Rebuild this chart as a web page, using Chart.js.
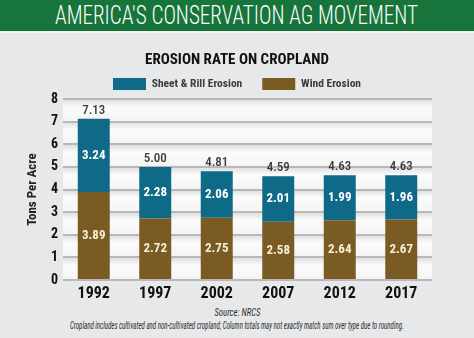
<!DOCTYPE html>
<html>
<head>
<meta charset="utf-8">
<title>Erosion Rate on Cropland</title>
<script src="https://cdn.jsdelivr.net/npm/chart.js@4.4.1/dist/chart.umd.min.js"></script>
<style>
  html, body { margin: 0; padding: 0; }
  body {
    width: 474px; height: 338px; position: relative; overflow: hidden;
    background: #e7e8ea;
    font-family: "Roboto Condensed", "Open Sans", sans-serif;
  }
  #banner {
    position: absolute; left: 0; top: 0; width: 474px; height: 31px;
    background: #17753b; border-bottom: 2px solid #f1f3f2; overflow: hidden;
  }
  .line {
    position: absolute; left: -263px; width: 1000px; text-align: center;
  }
  .line span { display: inline-block; white-space: nowrap; }
  #banner .line { top: 0; color: #fff; font-size: 25px; font-weight: 300; line-height: 31px; }
  #wrap { position: absolute; left: 0; top: 33px; width: 474px; height: 272px; }
  .foot { color: #2e2e2e; font-style: italic; font-size: 10px; line-height: 12px; }
</style>
</head>
<body>
<div id="banner"><div class="line"><span data-w="363">AMERICA'S CONSERVATION AG MOVEMENT</span></div></div>
<div id="wrap"><canvas id="erosion" width="474" height="272"></canvas></div>
<div class="line foot" style="top:307px"><span data-w="46">Source: NRCS</span></div>
<div class="line foot" style="top:320px"><span data-w="334">Cropland includes cultivated and non-cultivated cropland; Column totals may not exactly match sum over type due to rounding.</span></div>

<script>
const years = ["1992", "1997", "2002", "2007", "2012", "2017"];
const sheetRill = [3.24, 2.28, 2.06, 2.01, 1.99, 1.96];
const wind = [3.89, 2.72, 2.75, 2.58, 2.64, 2.67];
const totals = [7.13, 5.00, 4.81, 4.59, 4.63, 4.63];

const TEAL = "#0e6a86";
const BROWN = "#7a5b23";
const FONT = "'Roboto Condensed', 'Open Sans', sans-serif";

// squeeze the banner / footnote text to the set widths
document.querySelectorAll("span[data-w]").forEach((s) => {
  const k = Number(s.dataset.w) / s.offsetWidth;
  s.style.transform = "scaleX(" + k.toFixed(3) + ")";
});

// font size that makes a string about `w` px wide
const probe = document.createElement("canvas").getContext("2d");
function sizeFor(text, w, weight) {
  probe.font = weight + " 20px " + FONT;
  return Math.round((20 * w / probe.measureText(text).width) * 2) / 2;
}
const titleSize = Math.min(18, sizeFor("EROSION RATE ON CROPLAND", 186, "bold"));
const legendSize = Math.min(13.5, sizeFor("Sheet & Rill Erosion", 92, "bold"));

Chart.defaults.font.family = FONT;

// white banded plot background behind the gridlines
const plotBands = {
  id: "plotBands",
  beforeDraw(chart) {
    const { ctx, chartArea: a, scales } = chart;
    const y = scales.y;
    ctx.save();
    for (let v = 0; v < 8; v++) {
      const top = y.getPixelForValue(v + 1);
      const bot = y.getPixelForValue(v);
      const g = ctx.createLinearGradient(0, top, 0, bot);
      g.addColorStop(0, "#dcdcdc");
      g.addColorStop(0.35, "#fbfbfb");
      g.addColorStop(1, "#f4f4f4");
      ctx.fillStyle = g;
      ctx.fillRect(a.left, top, a.right - a.left, bot - top);
    }
    ctx.restore();
  },
};

// values inside each segment plus the column total on top
const valueLabels = {
  id: "valueLabels",
  afterDatasetsDraw(chart) {
    const { ctx } = chart;
    ctx.save();
    ctx.textAlign = "center";
    ctx.textBaseline = "middle";
    ctx.font = "bold 13px " + FONT;
    chart.data.datasets.forEach((ds, di) => {
      const meta = chart.getDatasetMeta(di);
      ctx.fillStyle = di === 0 ? "#f6eed6" : "#ffffff";
      meta.data.forEach((bar, i) => {
        ctx.fillText(ds.data[i].toFixed(2), bar.x, (bar.y + bar.base) / 2);
      });
    });
    const top = chart.getDatasetMeta(chart.data.datasets.length - 1);
    ctx.font = "500 13px " + FONT;
    ctx.fillStyle = "#3a3a3a";
    top.data.forEach((bar, i) => {
      ctx.fillText(totals[i].toFixed(2), bar.x, bar.y - 8);
    });
    ctx.restore();
  },
};

new Chart(document.getElementById("erosion"), {
  type: "bar",
  data: {
    labels: years,
    datasets: [
      { label: "Wind Erosion", data: wind, backgroundColor: BROWN },
      { label: "Sheet & Rill Erosion", data: sheetRill, backgroundColor: TEAL },
    ],
  },
  options: {
    responsive: false,
    animation: false,
    devicePixelRatio: 1,
    layout: { padding: 0 },
    datasets: { bar: { categoryPercentage: 1, barPercentage: 0.52 } },
    plugins: {
      title: {
        display: true,
        text: "EROSION RATE ON CROPLAND",
        color: "#111",
        font: { size: titleSize, weight: "bold", lineHeight: 1 },
        padding: { top: 20, bottom: -10 },
      },
      legend: {
        reverse: true,
        maxHeight: 41,
        labels: {
          boxWidth: 33,
          boxHeight: 12,
          padding: 20,
          color: "#3c3c3c",
          font: { size: legendSize, weight: "bold", lineHeight: 1 },
        },
      },
      tooltip: { enabled: false },
    },
    scales: {
      x: {
        stacked: true,
        grid: { display: false, drawTicks: false },
        border: { display: false },
        ticks: { color: "#111", font: { size: 16, weight: "bold" }, padding: 4 },
        afterFit: (s) => { s.height = 25; },
      },
      y: {
        stacked: true,
        min: 0,
        max: 8,
        grid: { color: "#b8b8b8", lineWidth: 2, drawTicks: false },
        border: { display: false },
        ticks: { stepSize: 1, color: "#111", font: { size: 14, weight: "bold" }, padding: 5 },
        title: {
          display: true,
          text: "Tons Per Acre",
          color: "#222",
          font: { size: 13, weight: "bold" },
          padding: { top: 25, bottom: 0 },
        },
        afterFit: (s) => { s.width = 63; },
      },
      // empty strip on the right so the titles stay centred on the page
      side: {
        position: "right",
        grid: { display: false, drawTicks: false },
        border: { display: false },
        ticks: { display: false },
        afterFit: (s) => { s.width = 42; },
      },
    },
  },
  plugins: [plotBands, valueLabels],
});
</script>
</body>
</html>
